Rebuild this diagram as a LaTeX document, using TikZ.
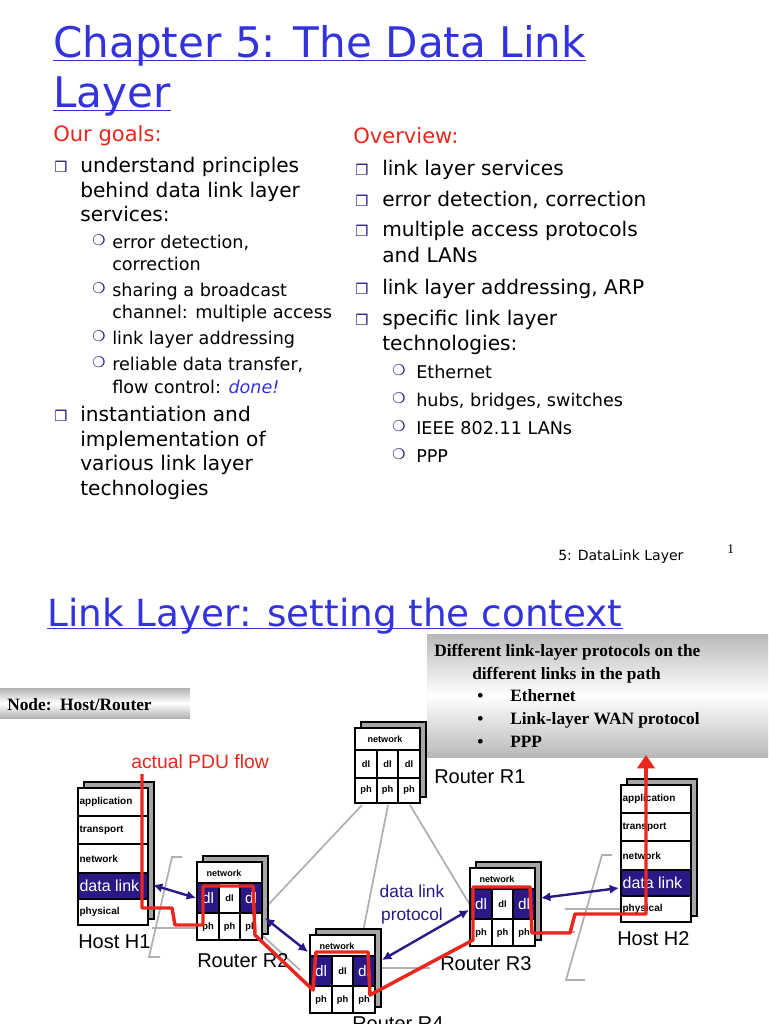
\documentclass[tikz,border=0pt]{standalone}
\usepackage{fontspec}
\setmainfont{DejaVu Sans}
\newfontfamily\arial{Liberation Sans}
\newfontfamily\tnr{Liberation Serif}
\newfontfamily\symf{DejaVu Sans}
\usetikzlibrary{arrows.meta}
\definecolor{ttl}{HTML}{3333DD}
\definecolor{navy}{HTML}{2B1786}
\definecolor{pdu}{HTML}{E8281E}
\definecolor{ltg}{HTML}{B0B0B0}
\newcommand\lay[6]{\draw[line width=1.3pt,fill=#6] (#1,#2) rectangle (#3,#4);\node[anchor=west,inner sep=1pt] at (#1,{(#2+#4)/2}) {#5};}
\newcommand\shad[4]{\fill[gray!70] (#1+6,#2-6) rectangle (#3+6,#4-6);\draw[line width=1.3pt] (#1+6,#2-6) rectangle (#3+6,#4-6);}
\begin{document}
\begin{tikzpicture}[x=0.75pt,y=-0.75pt,
 ttlt/.style={anchor=base west,inner sep=0,text=ttl,font=\fontsize{31.6}{36}\selectfont},
 body/.style={anchor=base west,inner sep=0,font=\fontsize{15.1}{18}\selectfont,align=left},
 sub/.style={anchor=base west,inner sep=0,font=\fontsize{13.2}{16}\selectfont},
 sq/.style={anchor=base west,inner sep=0,text=navy,font=\symf\fontsize{11}{12}\selectfont},
 lbl/.style={anchor=base west,inner sep=0,font=\arial\fontsize{15}{17}\selectfont},
 tiny/.style={font=\arial\bfseries\fontsize{6.8}{8}\selectfont},
 dlw/.style={font=\arial\fontsize{11.5}{12}\selectfont,text=white},
 dlb/.style={font=\arial\bfseries\fontsize{7}{8}\selectfont},
 gbx/.style={anchor=base west,inner sep=0,font=\tnr\bfseries\fontsize{13}{15}\selectfont},
 darr/.style={navy,line width=1.8pt,{Latex[length=7pt,width=7pt]}-{Latex[length=7pt,width=7pt]}},
 gl/.style={ltg,line width=1.3pt}]
\useasboundingbox (0,0) rectangle (768,1024);
\fill[white] (0,0) rectangle (768,1024);
% ---------- slide 1
\node[ttlt] (t1) at (53,58) {\underbar{Chapter 5: The Data Link}};
\node[ttlt] (t2) at (53,108) {\underbar{Layer}};
\node[body,text=pdu,font=\fontsize{15.8}{18}\selectfont] (g) at (53,142) {Our goals:};
\node[sq] at (54,172) {❒};
\node[body] (g1) at (80,172) {understand principles};
\node[body] at (80,197) {behind data link layer};
\node[body] at (80,221) {services:};
\foreach \y/\t in {248/{error detection,},270/{correction},296/{sharing a broadcast},318/{channel: multiple access},344/{link layer addressing},370/{reliable data transfer,}}
 \node[sub] at (112,\y) {\t};
\foreach \y in {248,296,344,370} \node[sq] at (92,\y-3) {❍};
\node[sub] at (112,393) {flow control: \textcolor{ttl}{\itshape done!}};
\node[sq] at (54,421) {❒};
\foreach \y/\t in {421/{instantiation and},446/{implementation of},470/{various link layer},495/{technologies}}
 \node[body] at (80,\y) {\t};
\node[body,text=pdu,font=\fontsize{15.8}{18}\selectfont] (o) at (353,143) {Overview:};
\foreach \y/\t in {175/{link layer services},206/{error detection, correction},236/{multiple access protocols},262/{and LANs},294/{link layer addressing, ARP},325/{specific link layer},350/{technologies:}}
 \node[body] at (382,\y) {\t};
\foreach \y in {175,206,236,294,325} \node[sq] at (355,\y) {❒};
\foreach \y/\t in {378/{Ethernet},406/{hubs, bridges, switches},434/{IEEE 802.11 LANs},462/{PPP}}
 {\node[sub] at (416,\y) {\t}; \node[sq] at (392,\y-3) {❍};}
\node[anchor=base west,inner sep=0,font=\fontsize{10.5}{12}\selectfont] (f) at (558,560) {5: DataLink Layer};
\node[anchor=base west,inner sep=0,font=\tnr\fontsize{10}{12}\selectfont] (pn) at (727,553) {1};
% ---------- slide 2
\node[ttlt,font=\fontsize{28}{32}\selectfont] (t3) at (47,626) {\underbar{Link Layer: setting the context}};
\shade[top color=gray!55,bottom color=gray!55,middle color=white] (427,634) rectangle (768,757);
\node[gbx] at (434,656) {Different link-layer protocols on the};
\node[gbx] at (472,679) {different links in the path};
\foreach \y/\t in {701/{Ethernet},724/{Link-layer WAN protocol},747/{PPP}}
 {\node[gbx] at (510,\y) {\t}; \node[gbx] at (477,\y) {•};}
\shade[top color=gray!60,bottom color=gray!60,middle color=white] (0,688) rectangle (190,718);
\node[gbx] (nd) at (7,710) {Node:\ \ Host/Router};
% gray links
\draw[gl] (362,805) -- (268,905);
\draw[gl] (388,805) -- (363,932);
\draw[gl] (410,805) -- (470,905);
\draw[gl] (182,857) -- (172,857) -- (149,957) -- (160,957);
\draw[gl] (152,928) -- (196,928);
\draw[gl] (612,855) -- (602,855) -- (566,980) -- (585,980);
\draw[gl] (540,932) -- (575,932);
\draw[gl] (565,909) -- (620,909);
\draw[gl] (262,935) -- (300,970);
\draw[gl] (377,968) -- (430,968);
% Router R1
\shad{355}{728}{420}{803}
\draw[line width=1.3pt,fill=white] (355,728) rectangle (420,803);
\draw[line width=1.3pt] (355,750) -- (420,750) (355,778) -- (420,778) (377,750) -- (377,803) (398,750) -- (398,803);
\node[tiny] at (385,739) {network};
\foreach \x in {366,387.5,409} {\node[dlb] at (\x,764) {dl}; \node[dlb] at (\x,790) {ph};}
\node[lbl] (r1) at (434,783) {Router R1};
% generic router
\newcommand\router[2]{%
 \shad{#1}{#2}{#1+65}{#2+78}
 \draw[line width=1.3pt,fill=white] (#1,#2) rectangle (#1+65,#2+78);
 \fill[navy] (#1,#2+21) rectangle (#1+22,#2+51);
 \fill[navy] (#1+43,#2+21) rectangle (#1+65,#2+51);
 \draw[line width=1.3pt] (#1,#2) rectangle (#1+65,#2+78) (#1,#2+21) -- (#1+65,#2+21) (#1,#2+51) -- (#1+65,#2+51) (#1+22,#2+21) -- (#1+22,#2+78) (#1+43,#2+21) -- (#1+43,#2+78);
 \node[tiny] at (#1+27,#2+11) {network};
 \node[dlw] at (#1+11,#2+36) {dl};\node[dlb] at (#1+32.5,#2+36) {dl};\node[dlw] at (#1+54,#2+36) {dl};
 \foreach \xx in {11,32.5,54} \node[dlb] at (#1+\xx,#2+65) {ph};}
\router{197}{862}
\node[lbl] (r2) at (197,967) {Router R2};
\router{310}{935}
\node[lbl] (r4) at (352,1030) {Router R4};
\router{470}{868}
\node[lbl] (r3) at (440,970) {Router R3};
% hosts
\newcommand\host[4]{%
 \shad{#1}{#2}{#1+70}{#2+137}
 \lay{#1}{#2}{#1+70}{#2+28}{\arial\bfseries\fontsize{7.5}{9}\selectfont application}{white}
 \lay{#1}{#2+28}{#1+70}{#2+56}{\arial\bfseries\fontsize{7.5}{9}\selectfont transport}{white}
 \lay{#1}{#2+56}{#1+70}{#2+85}{\arial\bfseries\fontsize{7.5}{9}\selectfont network}{white}
 \lay{#1}{#2+85}{#1+70}{#2+111}{\color{white}\arial\fontsize{12}{12}\selectfont data link}{navy}
 \lay{#1}{#2+111}{#1+70}{#2+137}{\arial\bfseries\fontsize{7.5}{9}\selectfont physical}{white}
 \node[lbl] at (#3,#2+160) {#4};}
\host{78}{788}{78}{Host H1}
\host{621}{785}{617}{Host H2}
% arrows
\draw[darr] (153,885) -- (196,898);
\draw[darr] (265,918) -- (308,952);
\draw[darr] (382,960) -- (469,910);
\draw[darr] (541,898) -- (619,888);
\node[anchor=base,inner sep=0,text=navy,font=\arial\fontsize{13}{15}\selectfont] (dlp) at (412,897) {data link};
\node[anchor=base,inner sep=0,text=navy,font=\arial\fontsize{13}{15}\selectfont] (dlp2) at (412,920) {protocol};
% red flow
\draw[pdu,line width=2.6pt,line join=round] (142,774) -- (142,908) -- (172,908) -- (175,925) -- (203,925) -- (203,886) -- (253,886) -- (255,935) -- (313,990) -- (316,952) -- (368,952) -- (370,995) -- (473,940) -- (473,887) -- (530,887) -- (532,933) -- (570,933) -- (575,914) -- (646,914) -- (646,770);
\draw[pdu,-{Triangle[length=10pt,width=13pt]},line width=2.6pt] (646,780) -- (646,755);
\node[anchor=base west,inner sep=0,text=pdu,font=\arial\fontsize{14.5}{16}\selectfont] (pf) at (131,768) {actual PDU flow};
\end{tikzpicture}
\end{document}
